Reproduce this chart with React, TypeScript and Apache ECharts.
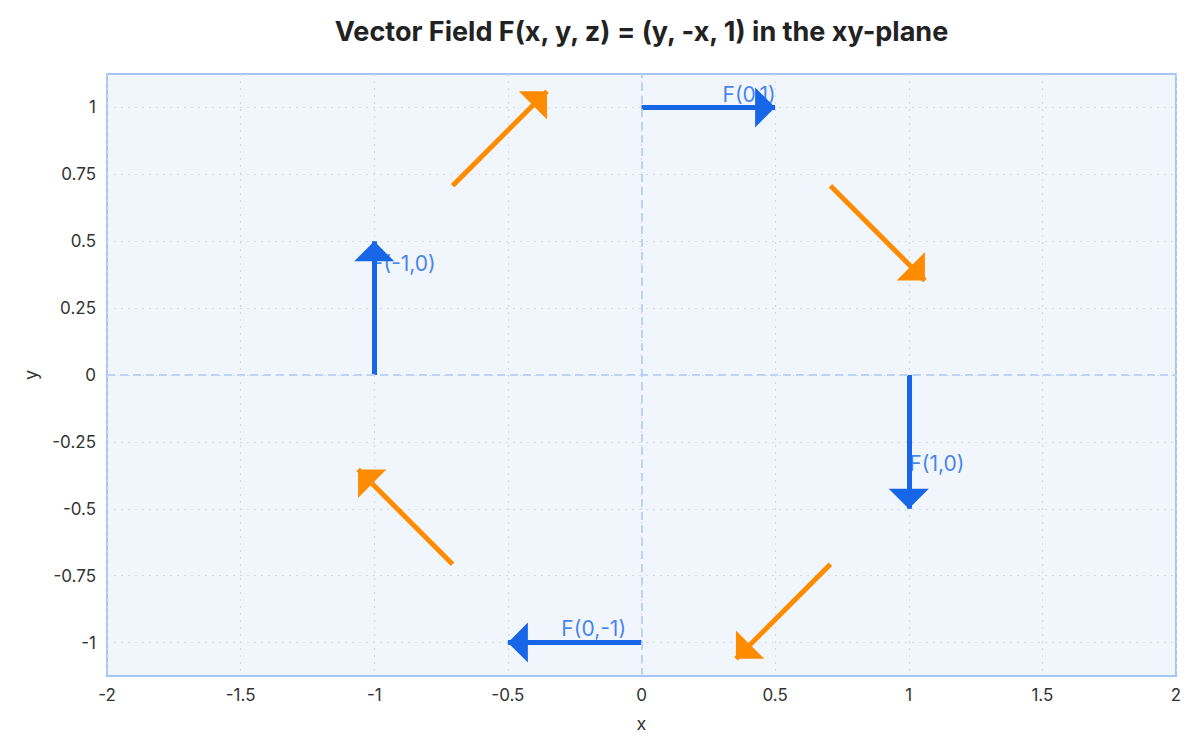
import { useEffect, useRef } from 'react'
import * as echarts from 'echarts'

// Sample points on the circle and F(x, y) = (y, -x), drawn at half length
const SCALE = 0.5
const axisPoints: [number, number][] = [[0, 1], [-1, 0], [1, 0], [0, -1]]
const axisNames = ['F(0,1)', 'F(-1,0)', 'F(1,0)', 'F(0,-1)']
const diagPoints: [number, number][] = [
  [0.707, 0.707],
  [-0.707, 0.707],
  [-0.707, -0.707],
  [0.707, -0.707]
]
// Where the annotation text starts (data coordinates)
const labelAnchors: [number, number][] = [
  [0.305, 1.045],
  [-1.01, 0.414],
  [1.004, -0.332],
  [-0.298, -0.951]
]
const xTicks = [-2, -1.5, -1, -0.5, 0, 0.5, 1, 1.5, 2]
const yTicks = [-1, -0.75, -0.5, -0.25, 0, 0.25, 0.5, 0.75, 1]

const BLUE = '#1766e8'
const ORANGE = '#ff8c00'
const FONT = 'Inter, "Noto Sans", sans-serif'

// triangle whose tip sits at the centre of its box, so the tip lands on the end point
const HEAD = 'path://M0,0 M0,20 L9,40 L-9,40 Z'

const arrow = ([x, y]: [number, number]) => ({
  coords: [[x, y], [x + SCALE * y, y - SCALE * x]]
})

const GRID = { left: 107, right: 24, top: 74, bottom: 77 }

const App = () => {
  const chartRef = useRef<HTMLDivElement>(null)

  useEffect(() => {
    document.body.style.margin = '0'
    if (!chartRef.current) return
    const chart = echarts.init(chartRef.current, null, { renderer: 'svg' })

    const gridLine = { lineStyle: { color: '#d3dcea', type: [2, 5], width: 1.2 } }
    const plotCenter = GRID.left + (1200 - GRID.left - GRID.right) / 2

    const option = {
      animation: false,
      graphic: [
        {
          type: 'text',
          x: plotCenter,
          y: 31,
          style: {
            text: 'Vector Field F(x, y, z) = (y, -x, 1) in the xy-plane',
            textAlign: 'center',
            textVerticalAlign: 'middle',
            fontFamily: FONT,
            fontSize: 27,
            fontWeight: 'bold',
            fill: '#222'
          }
        }
      ],
      grid: {
        ...GRID,
        show: true,
        backgroundColor: '#f1f6fd',
        borderColor: '#a6c4f5',
        borderWidth: 2
      },
      xAxis: {
        type: 'value',
        min: -2,
        max: 2,
        interval: 0.5,
        name: 'x',
        nameLocation: 'middle',
        nameGap: 38,
        nameTextStyle: { fontFamily: FONT, fontSize: 18, color: '#333' },
        axisLine: { show: false },
        axisTick: { show: false },
        axisLabel: {
          fontFamily: FONT,
          fontSize: 17,
          color: '#333',
          margin: 10,
          formatter: (v: number) => (xTicks.includes(v) ? String(v) : '')
        },
        splitLine: gridLine
      },
      yAxis: {
        type: 'value',
        min: -1.125,
        max: 1.125,
        name: 'y',
        nameLocation: 'middle',
        nameGap: 68,
        nameTextStyle: { fontFamily: FONT, fontSize: 18, color: '#333' },
        axisLine: { show: false },
        axisTick: { show: false, customValues: yTicks },
        axisLabel: {
          fontFamily: FONT,
          fontSize: 17,
          color: '#333',
          margin: 11,
          customValues: yTicks
        },
        splitLine: gridLine
      },
      series: [
        {
          type: 'scatter',
          z: 1,
          symbol: 'circle',
          symbolSize: 1,
          itemStyle: { color: 'transparent' },
          data: labelAnchors.map((p, i) => ({ value: p, name: axisNames[i] })),
          label: {
            show: true,
            position: [0, 0],
            align: 'left',
            verticalAlign: 'middle',
            formatter: '{b}',
            fontFamily: FONT,
            fontSize: 21,
            color: BLUE
          },
          markLine: {
            silent: true,
            symbol: 'none',
            label: { show: false },
            lineStyle: { color: '#bcd3f6', type: [8, 5], width: 2 },
            data: [{ xAxis: 0 }, { yAxis: 0 }]
          }
        },
        {
          type: 'lines',
          coordinateSystem: 'cartesian2d',
          z: 3,
          symbol: ['none', HEAD],
          symbolSize: [18, 40],
          lineStyle: { color: ORANGE, width: 5, opacity: 1 },
          data: diagPoints.map(arrow)
        },
        {
          type: 'lines',
          coordinateSystem: 'cartesian2d',
          z: 4,
          symbol: ['none', HEAD],
          symbolSize: [18, 40],
          lineStyle: { color: BLUE, width: 5, opacity: 1 },
          data: axisPoints.map(arrow)
        }
      ]
    }

    chart.setOption(option)

    return () => {
      chart.dispose()
    }
  }, [])

  return <div ref={chartRef} style={{ width: '1200px', height: '753px' }} />
}

export default App
